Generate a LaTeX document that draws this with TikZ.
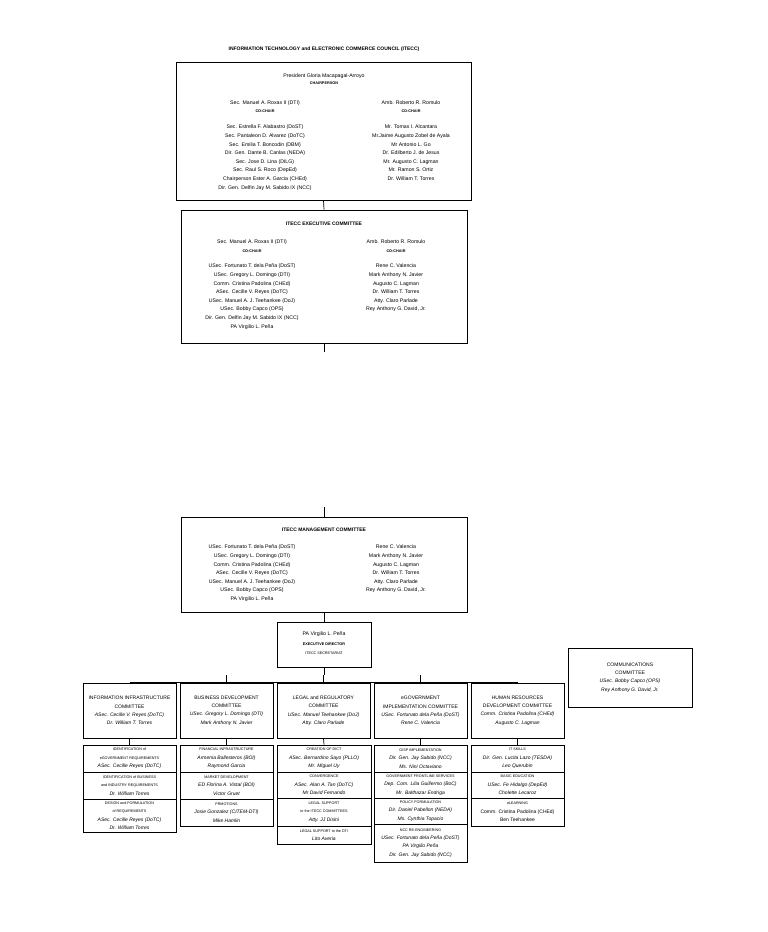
\documentclass[tikz,border=0pt]{standalone}
\usepackage{fontspec}
\setmainfont{Liberation Sans}
\begin{document}
\begin{tikzpicture}[x=1pt,y=-1pt,
 box/.style={draw,line width=0.7pt,inner sep=0pt,align=center},
 txt/.style={inner sep=0pt,align=center,font=\fontsize{5.2}{8.6}\selectfont},
 ln/.style={line width=0.7pt}]
\newcommand\lb[1]{{\fontsize{3.8}{5}\selectfont\bfseries #1}}
\newcommand\sm[1]{{\fontsize{3.7}{5}\selectfont #1}}
\newcommand\nm[1]{{\itshape #1}}
\newcommand\bx[6]{\pgfmathsetmacro\bw{#4-#2}\pgfmathsetmacro\bh{#5-#3}\pgfmathsetmacro\bcx{(#2+#4)/2}\pgfmathsetmacro\bcy{(#3+#5)/2}%
\node[box,minimum width=\bw pt,minimum height=\bh pt,font=\fontsize{5}{8.4}\selectfont] (#1) at (\bcx,\bcy) {#6};}
\useasboundingbox (0,0) rectangle (768,932);
\node[txt,font=\fontsize{5}{6}\selectfont\bfseries] (title) at (324,49) {INFORMATION TECHNOLOGY and ELECTRONIC COMMERCE COUNCIL (ITECC)};
% Council
\bx{council}{176}{62}{471}{200}{}
\node[txt] (pres) at (324,76) {President Gloria Macapagal-Arroyo};
\node[txt] (presl) at (324,83) {\lb{CHAIRPERSON}};
\node[txt] (cl1) at (265,103) {Sec. Manuel A. Roxas II (DTI)};
\node[txt] (cl1b) at (265,111) {\lb{CO-CHAIR}};
\node[txt] (cr1) at (411,103) {Amb. Roberto R. Romulo};
\node[txt] (cr1b) at (411,111) {\lb{CO-CHAIR}};
\node[txt,anchor=north] (cl2) at (265,125) {Sec. Estrella F. Alabastro (DoST)\\Sec. Pantaleon D. Alvarez (DoTC)\\Sec. Emilia T. Boncodin (DBM)\\Dir. Gen. Dante B. Canlas (NEDA)\\Sec. Jose D. Lina (DILG)\\Sec. Raul S. Roco (DepEd)\\Chairperson Ester A. Garcia (CHEd)\\Dir. Gen. Delfin Jay M. Sabido IX (NCC)};
\node[txt,anchor=north] (cr2) at (411,125) {Mr. Tomas I. Alcantara\\Mr.Jaime Augusto Zobel de Ayala\\Mr Antonio L. Go\\Dr. Edilberto J. de Jesus\\Mr. Augusto C. Lagman\\Mr. Ramon S. Ortiz\\Dr. William T. Torres};
% Exec
\bx{exec}{181}{210}{467}{343}{}
\node[txt,font=\fontsize{5}{6}\selectfont\bfseries] (exect) at (324,224) {ITECC EXECUTIVE COMMITTEE};
\node[txt] (el1) at (252,242) {Sec. Manuel A. Roxas II (DTI)};
\node[txt] (el1b) at (252,251) {\lb{CO-CHAIR}};
\node[txt] (er1) at (396,242) {Amb. Roberto R. Romulo};
\node[txt] (er1b) at (396,251) {\lb{CO-CHAIR}};
\node[txt,anchor=north] (el2) at (252,264) {USec. Fortunato T. dela Peña (DoST)\\USec. Gregory L. Domingo (DTI)\\Comm. Cristina Padolina (CHEd)\\ASec. Cecille V. Reyes (DoTC)\\USec. Manuel A. J. Teehankee (DoJ)\\USec. Bobby Capco (OPS)\\Dir. Gen. Delfin Jay M. Sabido IX (NCC)\\PA Virgilio L. Peña};
\node[txt,anchor=north] (er2) at (396,264) {Rene C. Valencia\\Mark Anthony N. Javier\\Augusto C. Lagman\\Dr. William T. Torres\\Atty. Claro Parlade\\Rey Anthony G. David, Jr.};
% Management
\bx{mgmt}{181}{517}{467}{612}{}
\node[txt,font=\fontsize{5}{6}\selectfont\bfseries] (mgmtt) at (324,530) {ITECC MANAGEMENT COMMITTEE};
\node[txt,anchor=north] (ml) at (252,545) {USec. Fortunato T. dela Peña (DoST)\\USec. Gregory L. Domingo (DTI)\\Comm. Cristina Padolina (CHEd)\\ASec. Cecille V. Reyes (DoTC)\\USec. Manuel A. J. Teehankee (DoJ)\\USec. Bobby Capco (OPS)\\PA Virgilio L. Peña};
\node[txt,anchor=north] (mr) at (396,545) {Rene C. Valencia\\Mark Anthony N. Javier\\Augusto C. Lagman\\Dr. William T. Torres\\Atty. Claro Parlade\\Rey Anthony G. David, Jr.};
% ED
\bx{ed}{277}{622}{371}{667}{}
\node[txt] (ed1) at (324,634) {PA Virgilio L. Peña};
\node[txt] (ed2) at (324,644) {\lb{EXECUTIVE DIRECTOR}};
\node[txt] (ed3) at (324,653) {\sm{ITECC SECRETARIAT}};
% connectors
\draw[ln] (council.south) -- (exec.north);
\coordinate (ex1) at (324,352);
\coordinate (mg1) at (324,507);
\draw[ln] (exec.south) -- (ex1);
\draw[ln] (mg1) -- (mgmt.north);
\draw[ln] (mgmt.south) -- (ed.north);
\coordinate (bus) at (324,675);
\draw[ln] (ed.south) -- (bus);
% committees
\bx{c1}{83}{683}{176}{738}{INFORMATION INFRASTRUCTURE\\COMMITTEE\\\nm{ASec. Cecille V. Reyes (DoTC)}\\\nm{Dr. William T. Torres}}
\bx{c2}{180}{683}{273}{738}{BUSINESS DEVELOPMENT\\COMMITTEE\\\nm{USec. Gregory L. Domingo (DTI)}\\\nm{Mark Anthony N. Javier}}
\bx{c3}{277}{683}{370}{738}{LEGAL and REGULATORY\\COMMITTEE\\\nm{USec. Manuel Teehankee (DoJ)}\\\nm{Atty. Claro Parlade}}
\bx{c4}{374}{683}{467}{738}{eGOVERNMENT\\IMPLEMENTATION COMMITTEE\\\nm{USec. Fortunato dela Peña (DoST)}\\\nm{Rene C. Valencia}}
\bx{c5}{471}{683}{564}{738}{HUMAN RESOURCES\\DEVELOPMENT COMMITTEE\\\nm{Comm. Cristina Padolina (CHEd)}\\\nm{Augusto C. Lagman}}
\bx{comm}{568}{648}{692}{707}{COMMUNICATIONS\\COMMITTEE\\\nm{USec. Bobby Capco (OPS)}\\\nm{Rey Anthony G. David, Jr.}}
\draw[ln] (c1.north) |- (c5.north);
\foreach \c in {c2,c3,c4}{\draw[ln] (\c.north) -- (\c.north |- bus);}
% sub boxes
\bx{s11}{83}{745}{176}{772}{\sm{IDENTIFICATION of}\\\sm{eGOVERNMENT REQUIREMENTS}\\\nm{ASec. Cecille Reyes (DoTC)}}
\bx{s12}{83}{772}{176}{799}{\sm{IDENTIFICATION of BUSINESS}\\\sm{and INDUSTRY REQUIREMENTS}\\\nm{Dr. William Torres}}
\bx{s13}{83}{799}{176}{832}{\sm{DESIGN and FORMULATION}\\\sm{of REQUIREMENTS}\\\nm{ASec. Cecille Reyes (DoTC)}\\\nm{Dr. William Torres}}
\bx{s21}{180}{745}{273}{772}{\sm{FINANCIAL INFRASTRUCTURE}\\\nm{Armenia Ballesteros (BOI)}\\\nm{Raymond Garcia}}
\bx{s22}{180}{772}{273}{799}{\sm{MARKET DEVELOPMENT}\\\nm{ED Florina A. Vistal (BOI)}\\\nm{Victor Gruet}}
\bx{s23}{180}{799}{273}{826}{\sm{PRMOTIONS}\\\nm{Josie Gonzalez (CITEM-DTI)}\\\nm{Mike Hamlin}}
\bx{s31}{277}{745}{371}{772}{\sm{CREATION OF DICT}\\\nm{ASec. Bernardino Sayo (PLLO)}\\\nm{Mr. Miguel Uy}}
\bx{s32}{277}{772}{371}{798}{\sm{CONVERGENCE}\\\nm{ASec. Alan A. Tan (DoTC)}\\\nm{Mr David Fernando}}
\bx{s33}{277}{798}{371}{826}{\sm{LEGAL SUPPORT}\\\sm{to the ITECC COMMITTEES}\\\nm{Atty. JJ Disini}}
\bx{s34}{277}{826}{371}{844}{\sm{LEGAL SUPPORT to the DTI}\\\nm{Lito Averia}}
\bx{s41}{374}{745}{467}{772}{\sm{GISP IMPLEMENTATION}\\\nm{Dir. Gen. Jay Sabido (NCC)}\\\nm{Ms. Nini Octaviano}}
\bx{s42}{374}{772}{467}{798}{\sm{GOVERNMENT FRONTLINE SERVICES}\\\nm{Dep. Com. Lilia Guillermo (BoC)}\\\nm{Mr. Balthazar Endriga}}
\bx{s43}{374}{798}{467}{824}{\sm{POLICY FORMULATION}\\\nm{Dir. Daniel Pabellon (NEDA)}\\\nm{Ms. Cynthia Topacio}}
\bx{s44}{374}{824}{467}{862}{\sm{NCC RE-ENGINEERING}\\\nm{USec. Fortunato dela Peña (DoST)}\\\nm{PA Virgilio Peña}\\\nm{Dir. Gen. Jay Sabido (NCC)}}
\bx{s51}{471}{745}{564}{772}{\sm{IT SKILLS}\\\nm{Dir. Gen. Lucita Lazo (TESDA)}\\\nm{Leo Querubin}}
\bx{s52}{471}{772}{564}{798}{\sm{BASIC EDUCATION}\\\nm{USec. Fe Hidalgo (DepEd)}\\\nm{Cholette Lecaroz}}
\bx{s53}{471}{798}{564}{826}{\sm{eLEARNING}\\Comm. Cristina Padolina (CHEd)\\Ben Teehankee}
\foreach \i in {1,...,5}{\draw[ln] (c\i.south) -- (s\i1.north);}
\end{tikzpicture}
\end{document}
